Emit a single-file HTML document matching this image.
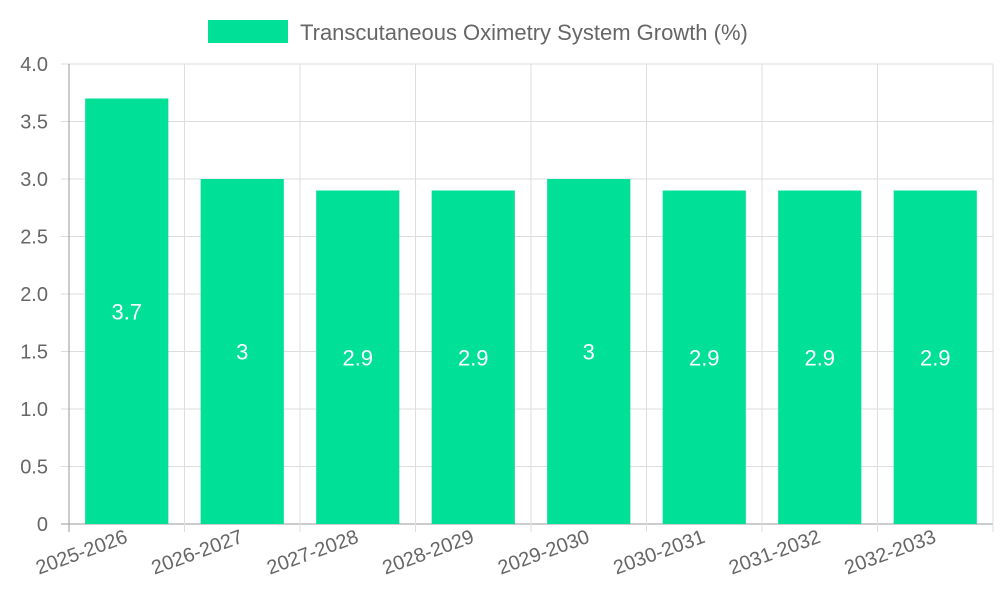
<!DOCTYPE html>
<html><head><meta charset="utf-8"><style>
body{margin:0;background:#fff;}
svg{display:block;font-family:"Liberation Sans",sans-serif;}
</style></head><body>
<svg id="chart" width="1000" height="600" xmlns="http://www.w3.org/2000/svg">
<g>
<rect x="208" y="20" width="80" height="23" fill="#00e096"/>
<text x="300" y="40" font-size="22" fill="#666">Transcutaneous Oximetry System Growth (%)</text>
</g>
<g id="grid"></g><g id="bars"></g><g id="labels"></g>
</svg>
<script>
const categories=["2025-2026","2026-2027","2027-2028","2028-2029","2029-2030","2030-2031","2031-2032","2032-2033"];
const values=[3.7,3,2.9,2.9,3,2.9,2.9,2.9];
const yTicks=[0,0.5,1,1.5,2,2.5,3,3.5,4];
const yTickLabels=["0","0.5","1.0","1.5","2.0","2.5","3.0","3.5","4.0"];
const L=69,R=993,T=64,B=524,yMax=4;
const NS="http://www.w3.org/2000/svg";
const bw=(R-L)/categories.length;
function y(v){return B-(v/yMax)*(B-T);}
function x(i){return L+bw*i;}
function mk(tag,attrs,parent){const e=document.createElementNS(NS,tag);for(const k in attrs)e.setAttribute(k,attrs[k]);parent.appendChild(e);return e;}
const grid=document.getElementById('grid'),bars=document.getElementById('bars'),labels=document.getElementById('labels');
yTicks.forEach((t,i)=>{
 const gl=mk('line',{x1:L-8,x2:R,y1:y(t),y2:y(t),stroke:i===0?'#999':'#ddd','stroke-width':1},grid);
 
 
 const tx=mk('text',{x:48,y:y(t)+7,'text-anchor':'end','font-size':20,fill:'#666'},grid);
 tx.textContent=yTickLabels[i];
 
 
});
for(let i=0;i<=categories.length;i++){
 const gl=mk('line',{x1:x(i),x2:x(i),y1:T,y2:B+8,stroke:i===0?'#999':'#ddd','stroke-width':1},grid);
 
 
}
categories.forEach((c,i)=>{
 const cx=x(i)+bw/2,w=bw*0.72;
 const r=mk('rect',{x:cx-w/2,y:y(values[i]),width:w,height:B-y(values[i]),fill:'#00e096'},bars);
 
 
 const vt=mk('text',{x:cx,y:(y(values[i])+B)/2+8,'text-anchor':'middle','font-size':22,fill:'#fff'},labels);
 vt.textContent=String(values[i]);
 
 
 const xt=mk('text',{x:cx+2,y:B+18,'text-anchor':'end','font-size':20,fill:'#666',transform:`rotate(-20 ${cx+2} ${B+18})`},labels);
 xt.textContent=c;
 
 
});
</script>
</body></html>
